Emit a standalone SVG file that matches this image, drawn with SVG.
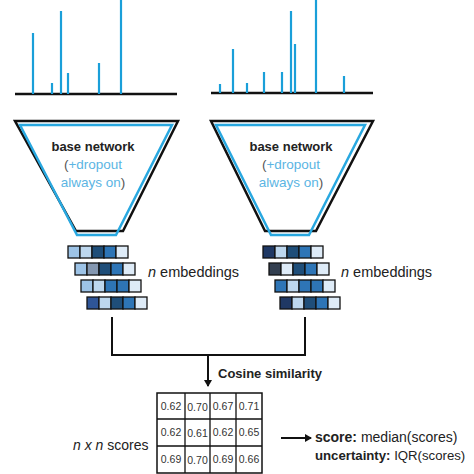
<svg xmlns="http://www.w3.org/2000/svg" width="474" height="474" viewBox="0 0 474 474">
<style>
.base{stroke:#111;stroke-width:2.5;fill:none}
.peak{stroke:#1a9fd9;stroke-width:2.2}
.fb{fill:none;stroke:#111;stroke-width:2.5}
.fl{fill:none;stroke:#29a8e0;stroke-width:2.5}
.t{font-family:"Liberation Sans",Arial,sans-serif;fill:#222}
.b{font-weight:bold}
.drop{fill:#5bb5e3}
.par{fill:#555}
.cell{stroke:#111;stroke-width:1.3}
.num{font-family:"Liberation Sans",Arial,sans-serif;font-size:10.5px;fill:#333;text-anchor:middle}
.c1{fill:#9dc3e6}.c2{fill:#bdd7ee}.c3{fill:#1f4e79}.c4{fill:#2e75b6}.c5{fill:#deebf7}.c6{fill:#8497b0}.c7{fill:#2f5597}.c8{fill:#1f3864}.c9{fill:#333f50}
.conn{stroke:#111;stroke-width:2;fill:none}
</style>
<defs>
<marker id="ah" markerWidth="8" markerHeight="8" refX="6" refY="4" orient="auto" markerUnits="userSpaceOnUse">
<path d="M0,0 L7,4 L0,8 z" fill="#111"/>
</marker>
</defs>

<g id="spectrum-left">
<line class="base" x1="15" y1="94" x2="177" y2="94"/>
<line class="peak" x1="33" y1="94" x2="33" y2="33"/>
<line class="peak" x1="52" y1="94" x2="52" y2="83"/>
<line class="peak" x1="61" y1="94" x2="61" y2="11"/>
<line class="peak" x1="68" y1="94" x2="68" y2="73"/>
<line class="peak" x1="99" y1="94" x2="99" y2="63"/>
<line class="peak" x1="121" y1="94" x2="121" y2="0"/>
</g>

<g id="spectrum-right">
<line class="base" x1="211" y1="93" x2="373" y2="93"/>
<line class="peak" x1="220" y1="93" x2="220" y2="84"/>
<line class="peak" x1="233" y1="93" x2="233" y2="49"/>
<line class="peak" x1="247" y1="93" x2="247" y2="83"/>
<line class="peak" x1="264" y1="93" x2="264" y2="72"/>
<line class="peak" x1="282" y1="93" x2="282" y2="72"/>
<line class="peak" x1="291" y1="93" x2="291" y2="11"/>
<line class="peak" x1="295" y1="93" x2="295" y2="44"/>
<line class="peak" x1="316" y1="93" x2="316" y2="0"/>
<line class="peak" x1="344" y1="93" x2="344" y2="76"/>
</g>

<g id="network-left">
<polygon class="fb" points="15,121 178,121 123,231 76,231"/>
<polygon class="fl" points="20,125 172,125 116,235 77,235"/>
<text class="t b" x="93" y="151" font-size="13" text-anchor="middle">base network</text>
<text class="t" x="93" y="169" font-size="13.5" text-anchor="middle"><tspan class="par">(</tspan><tspan class="drop">+dropout</tspan></text>
<text class="t" x="93" y="187" font-size="13.5" text-anchor="middle"><tspan class="drop">always on</tspan><tspan class="par">)</tspan></text>
</g>

<g id="network-right">
<polygon class="fb" points="211,121 373,121 316,231 265,231"/>
<polygon class="fl" points="216,125 365,125 309,235 271,235"/>
<text class="t b" x="291" y="151" font-size="13" text-anchor="middle">base network</text>
<text class="t" x="291" y="169" font-size="13.5" text-anchor="middle"><tspan class="par">(</tspan><tspan class="drop">+dropout</tspan></text>
<text class="t" x="291" y="187" font-size="13.5" text-anchor="middle"><tspan class="drop">always on</tspan><tspan class="par">)</tspan></text>
</g>

<g id="embeddings-left">
<g transform="translate(68,246)">
<rect class="cell c1" x="0" y="0" width="12" height="12"/><rect class="cell c2" x="12" y="0" width="12" height="12"/><rect class="cell c3" x="24" y="0" width="12" height="12"/><rect class="cell c4" x="36" y="0" width="12" height="12"/><rect class="cell c5" x="48" y="0" width="12" height="12"/>
</g>
<g transform="translate(75,263)">
<rect class="cell c1" x="0" y="0" width="12" height="12"/><rect class="cell c6" x="12" y="0" width="12" height="12"/><rect class="cell c3" x="24" y="0" width="12" height="12"/><rect class="cell c4" x="36" y="0" width="12" height="12"/><rect class="cell c5" x="48" y="0" width="12" height="12"/>
</g>
<g transform="translate(81,280)">
<rect class="cell c1" x="0" y="0" width="12" height="12"/><rect class="cell c2" x="12" y="0" width="12" height="12"/><rect class="cell c4" x="24" y="0" width="12" height="12"/><rect class="cell c4" x="36" y="0" width="12" height="12"/><rect class="cell c5" x="48" y="0" width="12" height="12"/>
</g>
<g transform="translate(87,297)">
<rect class="cell c7" x="0" y="0" width="12" height="12"/><rect class="cell c2" x="12" y="0" width="12" height="12"/><rect class="cell c3" x="24" y="0" width="12" height="12"/><rect class="cell c4" x="36" y="0" width="12" height="12"/><rect class="cell c5" x="48" y="0" width="12" height="12"/>
</g>
<text class="t" x="148" y="277" font-size="14.5"><tspan font-style="italic">n</tspan> embeddings</text>
</g>

<g id="embeddings-right">
<g transform="translate(263,246)">
<rect class="cell c8" x="0" y="0" width="12" height="12"/><rect class="cell c2" x="12" y="0" width="12" height="12"/><rect class="cell c3" x="24" y="0" width="12" height="12"/><rect class="cell c4" x="36" y="0" width="12" height="12"/><rect class="cell c5" x="48" y="0" width="12" height="12"/>
</g>
<g transform="translate(269,263)">
<rect class="cell c9" x="0" y="0" width="12" height="12"/><rect class="cell c5" x="12" y="0" width="12" height="12"/><rect class="cell c3" x="24" y="0" width="12" height="12"/><rect class="cell c4" x="36" y="0" width="12" height="12"/><rect class="cell c5" x="48" y="0" width="12" height="12"/>
</g>
<g transform="translate(275,280)">
<rect class="cell c4" x="0" y="0" width="12" height="12"/><rect class="cell c2" x="12" y="0" width="12" height="12"/><rect class="cell c4" x="24" y="0" width="12" height="12"/><rect class="cell c4" x="36" y="0" width="12" height="12"/><rect class="cell c5" x="48" y="0" width="12" height="12"/>
</g>
<g transform="translate(280,297)">
<rect class="cell c8" x="0" y="0" width="12" height="12"/><rect class="cell c2" x="12" y="0" width="12" height="12"/><rect class="cell c3" x="24" y="0" width="12" height="12"/><rect class="cell c4" x="36" y="0" width="12" height="12"/><rect class="cell c5" x="48" y="0" width="12" height="12"/>
</g>
<text class="t" x="341" y="277" font-size="14.5"><tspan font-style="italic">n</tspan> embeddings</text>
</g>

<g id="connectors">
<polyline class="conn" points="112,317 112,355 305,355 305,317"/>
<line class="conn" x1="208" y1="355" x2="208" y2="386" marker-end="url(#ah)"/>
<line class="conn" x1="281" y1="438" x2="311" y2="438" marker-end="url(#ah)"/>
</g>

<g id="cosine-label">
<text class="t b" x="218" y="378" font-size="13">Cosine similarity</text>
</g>

<g id="scores-matrix">
<rect x="157" y="393" width="105" height="80" fill="#fff" stroke="#111" stroke-width="1.5"/>
<path d="M185,393V473M210,393V473M236,393V473M157,419H262M157,446H262" stroke="#111" stroke-width="1.3"/>
<text class="num" x="171" y="410">0.62</text><text class="num" x="197.5" y="411">0.70</text><text class="num" x="223" y="410">0.67</text><text class="num" x="249" y="410">0.71</text>
<text class="num" x="171" y="436">0.62</text><text class="num" x="197.5" y="437">0.61</text><text class="num" x="223" y="436">0.62</text><text class="num" x="249" y="436">0.65</text>
<text class="num" x="171" y="463">0.69</text><text class="num" x="197.5" y="464">0.70</text><text class="num" x="223" y="463">0.69</text><text class="num" x="249" y="463">0.66</text>
<text class="t" x="73" y="450" font-size="14"><tspan font-style="italic">n x n</tspan> scores</text>
</g>

<g id="result">
<text class="t" x="315" y="442" font-size="14"><tspan class="b">score:</tspan> median(scores)</text>
<text class="t" x="315" y="460" font-size="13.2"><tspan class="b">uncertainty:</tspan> IQR(scores)</text>
</g>
</svg>
